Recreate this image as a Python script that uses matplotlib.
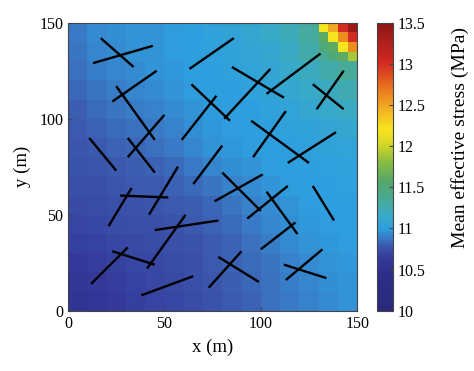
import numpy as np
import matplotlib
matplotlib.use("Agg")
from matplotlib import pyplot as plt
from matplotlib.colors import LinearSegmentedColormap

plt.rcParams['font.family'] = ['Liberation Serif', 'DejaVu Serif']

# Mean effective stress (MPa) on 10 m cells, rows from y=145 (top) down to y=5
stress = np.array([
    [10.88, 10.93, 10.95, 10.96, 10.97, 10.99, 11.00, 11.03, 11.06, 11.10, 11.15, 11.22, 11.32, 12.10, 13.00],
    [10.87, 10.92, 10.94, 10.96, 10.97, 10.99, 11.00, 11.02, 11.05, 11.08, 11.12, 11.18, 11.28, 11.60, 12.10],
    [10.86, 10.90, 10.92, 10.94, 10.96, 10.98, 11.00, 11.01, 11.03, 11.06, 11.09, 11.14, 11.20, 11.28, 11.35],
    [10.83, 10.87, 10.90, 10.92, 10.94, 10.96, 10.99, 11.00, 11.01, 11.03, 11.06, 11.10, 11.15, 11.20, 11.25],
    [10.80, 10.84, 10.87, 10.89, 10.91, 10.94, 10.97, 10.99, 11.00, 11.01, 11.03, 11.06, 11.10, 11.14, 11.18],
    [10.78, 10.81, 10.84, 10.86, 10.88, 10.91, 10.95, 10.98, 10.99, 11.00, 11.01, 11.03, 11.05, 11.08, 11.12],
    [10.77, 10.79, 10.81, 10.83, 10.85, 10.88, 10.92, 10.96, 10.98, 10.99, 11.00, 11.01, 11.02, 11.04, 11.06],
    [10.76, 10.77, 10.79, 10.80, 10.82, 10.84, 10.88, 10.92, 10.95, 10.97, 10.99, 11.00, 11.01, 11.02, 11.03],
    [10.74, 10.75, 10.77, 10.78, 10.79, 10.81, 10.84, 10.87, 10.91, 10.94, 10.97, 10.99, 11.00, 11.01, 11.02],
    [10.72, 10.73, 10.75, 10.76, 10.77, 10.78, 10.80, 10.83, 10.87, 10.91, 10.94, 10.97, 10.99, 11.00, 11.01],
    [10.69, 10.71, 10.73, 10.74, 10.75, 10.76, 10.78, 10.81, 10.84, 10.88, 10.92, 10.95, 10.98, 10.99, 11.00],
    [10.66, 10.68, 10.70, 10.72, 10.73, 10.74, 10.76, 10.79, 10.82, 10.86, 10.89, 10.93, 10.96, 10.98, 10.99],
    [10.62, 10.65, 10.68, 10.70, 10.71, 10.73, 10.75, 10.78, 10.81, 10.84, 10.87, 10.91, 10.94, 10.96, 10.98],
    [10.58, 10.62, 10.65, 10.68, 10.70, 10.72, 10.74, 10.77, 10.80, 10.83, 10.86, 10.89, 10.92, 10.95, 10.97],
    [10.54, 10.59, 10.63, 10.66, 10.69, 10.71, 10.73, 10.76, 10.79, 10.82, 10.85, 10.88, 10.91, 10.94, 10.96],
])

# finer 5 m cells in the top-right corner (x 130-150, y 130-150), rows from top
corner = np.array([
    [12.20, 12.50, 13.00, 13.40],
    [11.60, 12.20, 12.60, 13.00],
    [11.50, 11.60, 12.20, 12.60],
    [11.35, 11.50, 11.60, 11.90],
])

# fracture segments (m): x0, y0, x1, y1
frac_x0 = [17, 13, 63, 85, 103, 81, 64, 59, 127, 129, 25, 23, 31, 31, 11, 95, 96, 114, 65,
           27, 21, 42, 80, 76, 93, 103, 100, 127, 45, 41, 12, 23, 38, 73, 78, 112, 113]
frac_y0 = [142, 129, 126, 127, 113, 100, 118, 89, 118, 105, 117, 109, 80, 90, 90, 99, 80, 77, 66,
           60, 44, 50, 72, 57, 48, 62, 32, 65, 42, 22, 14, 31, 8, 12, 28, 24, 16]
frac_x1 = [34, 44, 86, 112, 131, 105, 84, 77, 143, 143, 45, 46, 50, 45, 25, 125, 113, 139, 80,
           52, 33, 57, 100, 101, 114, 119, 118, 138, 78, 61, 31, 45, 65, 90, 99, 134, 132]
frac_y1 = [127, 138, 142, 111, 134, 126, 99, 112, 105, 125, 89, 125, 102, 72, 73, 77, 104, 93, 86,
           59, 64, 75, 52, 71, 65, 40, 46, 47, 47, 50, 33, 24, 18, 31, 15, 17, 32]

cbar_ticks = [10, 10.5, 11, 11.5, 12, 12.5, 13, 13.5]
cbar_labels = ['10', '10.5', '11', '11.5', '12', '12.5', '13', '13.5']

# colormap
cmap = LinearSegmentedColormap.from_list('stress', [
    (0.00, '#2a2a7c'), (0.12, '#2c2d88'), (0.18, '#34399a'), (0.22, '#3b55ab'),
    (0.25, '#3a78c4'), (0.285, '#2e9fdf'), (0.33, '#38aac8'), (0.38, '#47aa9c'),
    (0.45, '#55a86a'), (0.52, '#8cbd40'), (0.58, '#d6d825'), (0.63, '#f8e51e'),
    (0.70, '#f2b222'), (0.78, '#e8701e'), (0.86, '#d42a22'), (1.00, '#8c1616'),
])

fig = plt.figure(figsize=(4.74, 3.71), dpi=100)
ax = fig.add_axes([0.1435, 0.1625, 0.61, 0.776])
cax = fig.add_axes([0.796, 0.1625, 0.033, 0.776])

edges = np.arange(0, 151, 10)
mesh = ax.pcolormesh(edges, edges, stress[::-1], cmap=cmap, vmin=10, vmax=13.5)
fine = np.arange(130, 151, 5)
ax.pcolormesh(fine, fine, corner[::-1], cmap=cmap, vmin=10, vmax=13.5)

for x0, y0, x1, y1 in zip(frac_x0, frac_y0, frac_x1, frac_y1):
    ax.plot([x0, x1], [y0, y1], color='black', linewidth=1.7, solid_capstyle='butt')

ax.set_xlim(0, 150)
ax.set_ylim(0, 150)
ax.set_xticks([0, 50, 100, 150])
ax.set_yticks([0, 50, 100, 150])
ax.tick_params(direction='in', labelsize=11.5, length=3, color='#444444')
ax.set_xlabel('x (m)', fontsize=13.5, labelpad=5)
ax.set_ylabel('y (m)', fontsize=13.5, labelpad=6)
for s in ax.spines.values():
    s.set_color('#444444')
    s.set_linewidth(0.8)

cb = fig.colorbar(mesh, cax=cax, ticks=cbar_ticks)
cb.ax.set_yticklabels(cbar_labels)
cb.ax.tick_params(direction='in', labelsize=11.5, length=3, color='#444444')
cb.outline.set_edgecolor('#444444')
cb.outline.set_linewidth(0.8)
cb.set_label('Mean effective stress (MPa)', fontsize=14)
cb.ax.yaxis.set_label_coords(4.7, 0.6)

fig.savefig('out.png', dpi=100)
